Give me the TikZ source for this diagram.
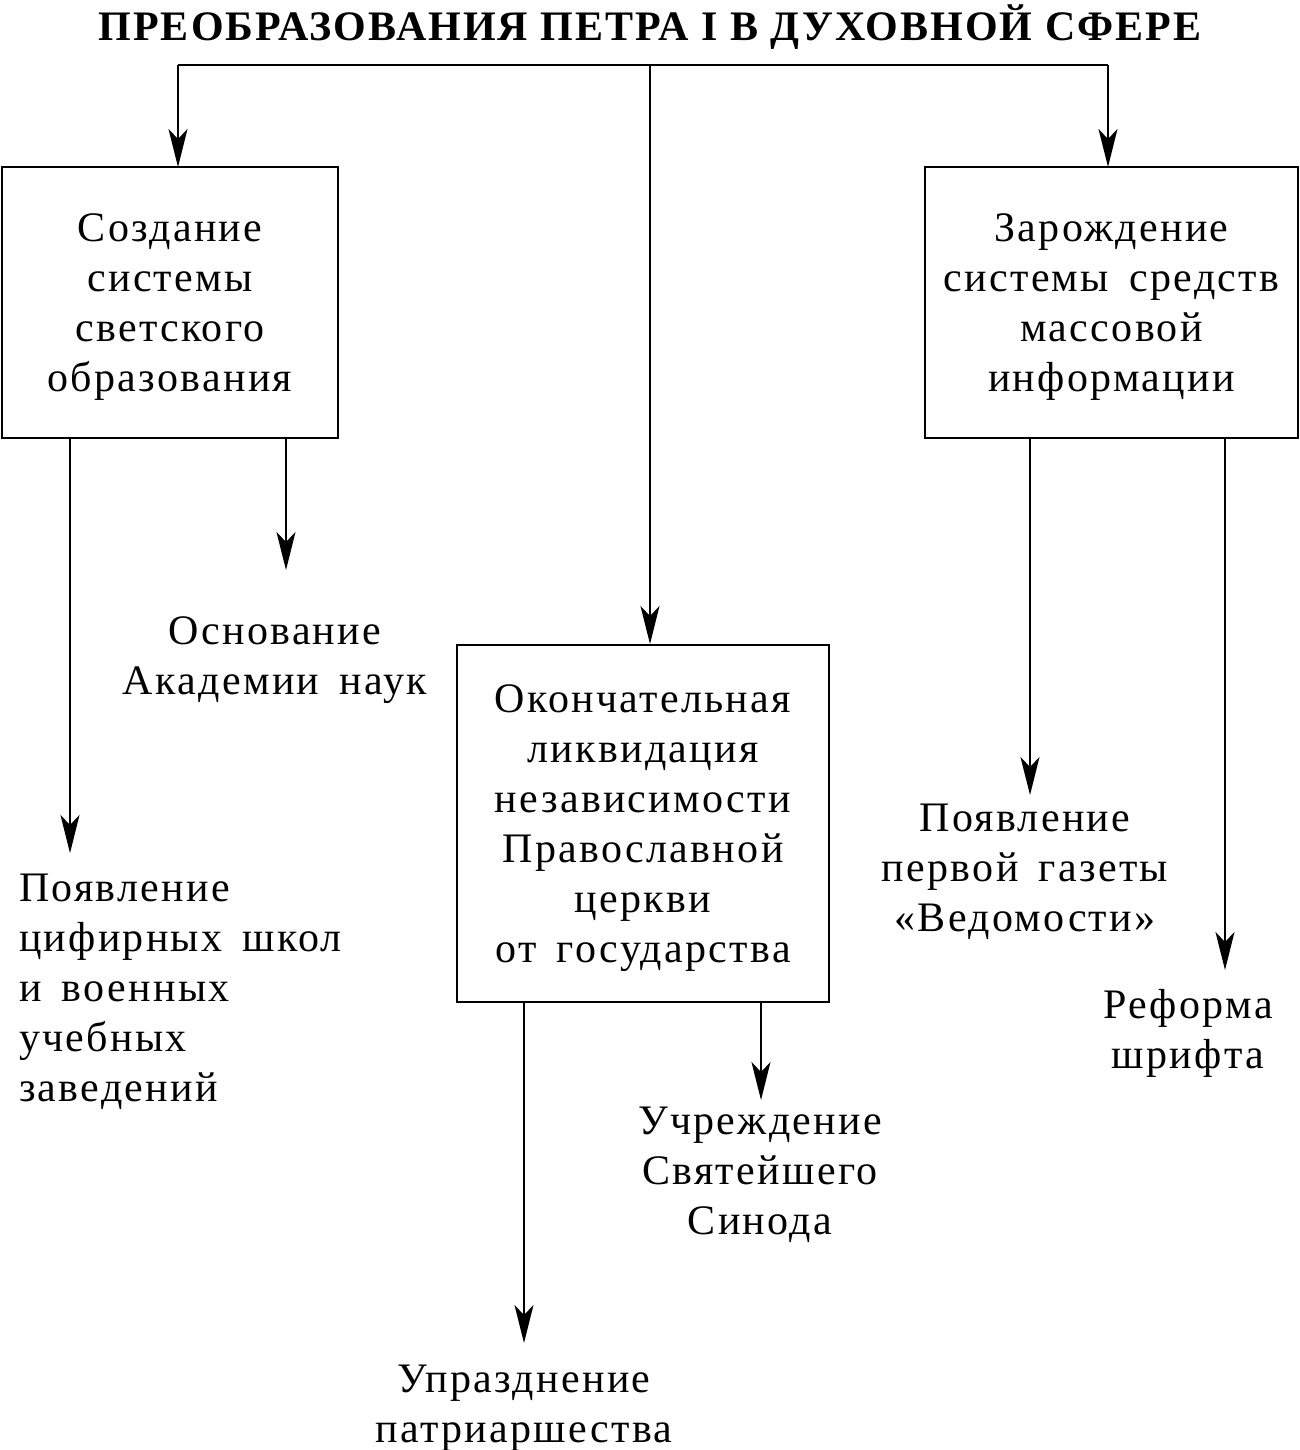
\documentclass[tikz,border=0pt]{standalone}
\usepackage{fontspec}
\setmainfont{Liberation Serif}[LetterSpace=5.5, WordSpace=1.6]
\newfontfamily\titlefont{Liberation Serif}[LetterSpace=5]
\usetikzlibrary{arrows.meta}
\begin{document}
\begin{tikzpicture}[x=0.5pt,y=-0.5pt,
  line width=1pt,
  arr/.style={-{Stealth[length=19pt,width=9.5pt,inset=5pt]}},
  box/.style={draw, line width=1pt, inner sep=0pt},
  lbl/.style={align=center, inner sep=0pt},
  inlbl/.style={label={[lbl, yshift=-2.5pt]center:{#1}}},
  font=\fontsize{21}{25}\selectfont]
\useasboundingbox (0,0) rectangle (1300,1450);

\node[lbl, font=\fontsize{21}{25}\selectfont\titlefont\bfseries] (title) at (650,27) {ПРЕОБРАЗОВАНИЯ ПЕТРА I В ДУХОВНОЙ СФЕРЕ};

\node[box, minimum width=168pt, minimum height=135.5pt,
  inlbl={Создание\\системы\\светского\\образования}] (L) at (170,302.5) {};
\node[box, minimum width=186.5pt, minimum height=135.5pt,
  inlbl={Зарождение\\системы средств\\массовой\\информации}] (R) at (1111.5,302.5) {};
\node[box, minimum width=186pt, minimum height=178.5pt,
  inlbl={Окончательная\\ликвидация\\независимости\\Православной\\церкви\\от государства}] (C) at (643,823.5) {};

\node[lbl] (acad) at (275,660) {Основание\\Академии наук};
\node[lbl, align=left, anchor=west] (schools) at (18,992)
  {Появление\\цифирных школ\\и военных\\учебных\\заведений};
\node[lbl] (synod) at (760,1175) {Учреждение\\Святейшего\\Синода};
\node[lbl] (patr) at (524,1408) {Упразднение\\патриаршества};
\node[lbl] (gaz) at (1025,872) {Появление\\первой газеты\\«Ведомости»};
\node[lbl] (font) at (1188,1033) {Реформа\\шрифта};

\coordinate (top) at (650,65);
\coordinate (tl) at (178,65);
\coordinate (tr) at (1108,65);
\coordinate (eL) at (178,167);
\coordinate (eR) at (1108,167);
\draw (tl) -- (tr);
\draw[arr] (tl) -- (eL);
\draw[arr] (tr) -- (eR);
\draw[arr] (top) -- (C.north -| top);

\coordinate (a1) at (70,853);
\coordinate (a2) at (286,570);
\coordinate (a3) at (524,1343);
\coordinate (a4) at (761,1100);
\coordinate (a5) at (1030,795);
\coordinate (a6) at (1225,970);
\draw[arr] (L.south -| a1) -- (a1);
\draw[arr] (L.south -| a2) -- (a2);
\draw[arr] (C.south -| a3) -- (a3);
\draw[arr] (C.south -| a4) -- (a4);
\draw[arr] (R.south -| a5) -- (a5);
\draw[arr] (R.south -| a6) -- (a6);
\end{tikzpicture}
\end{document}
